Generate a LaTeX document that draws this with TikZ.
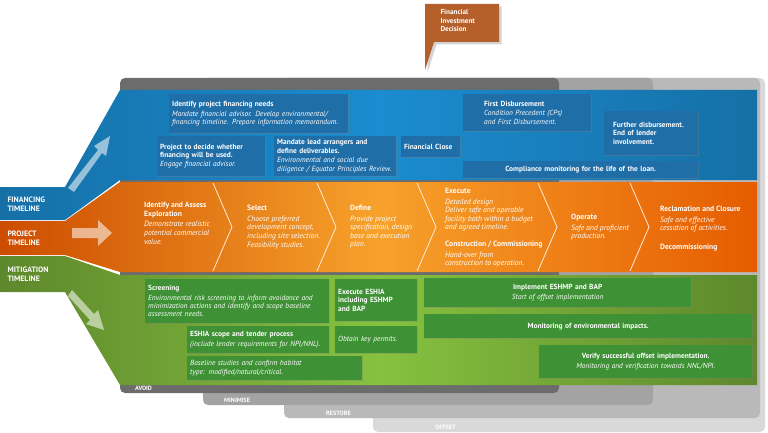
\documentclass[tikz,border=0pt]{standalone}
\usepackage{fontspec}
\setmainfont{PT Sans}
\usetikzlibrary{positioning,shadows}
\definecolor{finblue}{HTML}{1B8CD0}
\definecolor{boxblue}{HTML}{1F6EA8}
\definecolor{projorange}{HTML}{F7A12B}
\definecolor{mitgreen}{HTML}{86C23F}
\definecolor{boxgreen}{HTML}{3E9134}
\definecolor{fidbrown}{HTML}{B5602A}
\tikzset{
  box/.style={anchor=north west, inner sep=3pt, text=white, align=left,
    font=\fontsize{7.4}{8.4}\selectfont, drop shadow={opacity=0.35, shadow xshift=1.2pt, shadow yshift=-1.2pt}},
  fbox/.style={box, fill=boxblue},
  mbox/.style={box, fill=boxgreen},
  steptext/.style={anchor=north west, text=white, align=left, inner sep=0pt,
    font=\fontsize{7.6}{8.6}\selectfont},
  layer/.style={rounded corners=5pt},
  tab/.style={anchor=south west, text=white, font=\bfseries\fontsize{6.2}{6.5}\selectfont, inner sep=1pt},
  band label/.style={anchor=west, text=white, align=left, font=\bfseries\fontsize{7.8}{9.5}\selectfont},
  chevron/.style={white!85!orange, line width=0.8pt},
  bigarrow/.style={fill=white, fill opacity=0.55, draw=none}
}
\begin{document}
\begin{tikzpicture}[x=1pt,y=-1pt]
\useasboundingbox (0,0) rectangle (768,433);
% mitigation layers
\fill[layer, fill=gray!30] (373,78) rectangle (765,432);
\fill[layer, fill=gray!55] (284,78) rectangle (760,418);
\fill[layer, fill=gray!72] (203,78) rectangle (653,405);
\fill[layer, fill=gray!85!black] (120,78) rectangle (559,393);
\node[tab] (avoid) at (134,392) {AVOID};
\node[tab] (minimise) at (223,404) {MINIMISE};
\node[tab] (restore) at (325,417) {RESTORE};
\node[tab] (offset) at (434,431) {OFFSET};

% bands
\shade[left color=finblue!80!black, right color=finblue!80!black, middle color=finblue]
  (0,187) -- (65,187) -- (120,90) -- (757,90) -- (757,180) -- (120,180) -- (65,220) -- (0,220) -- cycle;
\shade[left color=orange!75!red!80!black, right color=orange!80!red!90!black, middle color=projorange]
  (0,221) -- (65,221) -- (120,182) -- (757,182) -- (757,272) -- (120,272) -- (65,255) -- (0,255) -- cycle;
\shade[left color=mitgreen!70!black, right color=mitgreen!70!black, middle color=mitgreen]
  (0,256) -- (65,256) -- (120,275) -- (757,275) -- (757,385) -- (120,385) -- (65,292) -- (0,292) -- cycle;
\node[band label] (fin) at (4,204) {FINANCING\\TIMELINE};
\node[band label] (proj) at (4,238) {PROJECT\\TIMELINE};
\node[band label] (mit) at (4,274) {MITIGATION\\TIMELINE};

% fan arrows
\path[bigarrow] (68,188) -- (98,150) -- (94,146) -- (110,136) -- (106,156) -- (102,153) -- (74,192) -- cycle;
\path[bigarrow] (72,228) -- (98,228) -- (98,220) -- (112,233) -- (98,246) -- (98,238) -- (72,238) -- cycle;
\path[bigarrow] (72,290) -- (94,314) -- (98,310) -- (104,330) -- (86,324) -- (90,320) -- (68,296) -- cycle;

% chevrons
\foreach \cx in {213,317,417,538,630}
  \draw[chevron] (\cx,183) -- (\cx+19,227) -- (\cx,271);

% project steps
\node[steptext] (ident) at (144,202) {\textbf{Identify and Assess}\\\textbf{Exploration}\\[2pt]\itshape Demonstrate realistic\\\itshape potential commercial\\\itshape value.};
\node[steptext] (select) at (247,205) {\textbf{Select}\\[2pt]\itshape Choose preferred\\\itshape development concept,\\\itshape including site selection.\\\itshape Feasibility studies.};
\node[steptext] (define) at (350,205) {\textbf{Define}\\[2pt]\itshape Provide project\\\itshape specification, design\\\itshape base and execution\\\itshape plan.};
\node[steptext] (execute) at (445,188) {\textbf{Execute}\\[2pt]\itshape Detailed design\\\itshape Deliver safe and operable\\\itshape facility both within a budget\\\itshape and agreed timeline.};
\node[steptext] (constr) at (445,241) {\textbf{Construction / Commissioning}\\[2pt]\itshape Hand-over from\\\itshape construction to operation.};
\node[steptext] (operate) at (571,214) {\textbf{Operate}\\[2pt]\itshape Safe and proficient\\\itshape production.};
\node[steptext] (reclaim) at (660,206) {\textbf{Reclamation and Closure}\\[2pt]\itshape Safe and effective\\\itshape cessation of activities.};
\node[steptext] (decom) at (660,244) {\textbf{Decommissioning}};

% financing boxes
\node[fbox, text width=173pt, minimum height=39pt] (needs) at (169,94) {\textbf{Identify project financing needs}\\[1pt]\itshape Mandate financial advisor. Develop environmental/\\\itshape financing timeline. Prepare information memorandum.};
\node[fbox, text width=102pt, minimum height=40pt] (decide) at (157,136) {\textbf{Project to decide whether}\\\textbf{financing will be used.}\\[1pt]\itshape Engage financial advisor.};
\node[fbox, text width=116pt, minimum height=40pt] (mandate) at (274,136) {\textbf{Mandate lead arrangers and}\\\textbf{define deliverables.}\\[1pt]\itshape Environmental and social due\\\itshape diligence / Equator Principles Review.};
\node[fbox, text width=53pt, minimum height=21pt] (close) at (401,136) {\textbf{Financial Close}};
\node[fbox, text width=122pt, minimum height=37pt] (first) at (463,94) {\hspace*{18pt}\textbf{First Disbursement}\\[1pt]\hspace*{18pt}\itshape Condition Precedent (CPs)\\\hspace*{18pt}\itshape and First Disbursement.};
\node[fbox, text width=88pt, minimum height=44pt] (further) at (604,111) {\hspace*{6pt}\textbf{Further disbursement.}\\\hspace*{6pt}\textbf{End of lender}\\\hspace*{6pt}\textbf{involvement.}};
\node[fbox, text width=229pt, minimum height=17pt, align=center] (comply) at (463,161) {\textbf{Compliance monitoring for the life of the loan.}};

% decision callout
\fill[fidbrown, drop shadow={opacity=0.35}] (425,4) -- (499,4) -- (499,42) -- (434,42) -- (425,70) -- (425,4) -- cycle;
\node[anchor=north west, text=white, align=left, font=\bfseries\fontsize{7.2}{8.4}\selectfont] (fid) at (437,6) {Financial\\Investment\\Decision};

% mitigation boxes
\node[mbox, text width=178pt, minimum height=44pt] (screen) at (145,279) {\textbf{Screening}\\[1pt]\itshape Environmental risk screening to inform avoidance and\\\itshape minimization actions and identify and scope baseline\\\itshape assessment needs.};
\node[mbox, text width=76pt, minimum height=42pt] (eshia) at (335,279) {\textbf{Execute ESHIA}\\\textbf{including ESHMP}\\\textbf{and BAP}};
\node[mbox, text width=136pt, minimum height=27pt] (scope) at (187,326) {\textbf{ESHIA scope and tender process}\\[1pt]\itshape (include lender requirements for NPI/NNL).};
\node[mbox, text width=76pt, minimum height=27pt] (permits) at (335,326) {\itshape Obtain key permits.};
\node[mbox, text width=169pt, minimum height=24pt] (baseline) at (187,356) {\itshape Baseline studies and confirm habitat\\\itshape type: modified/natural/critical.};
\node[mbox, text width=261pt, minimum height=29pt, align=center] (implement) at (424,278) {\textbf{Implement ESHMP and BAP}\\[1pt]\itshape Start of offset implementation};
\node[mbox, text width=322pt, minimum height=24pt, align=center] (monitor) at (424,314) {\textbf{Monitoring of environmental impacts.}};
\node[mbox, text width=207pt, minimum height=33pt, align=center] (verify) at (539,345) {\textbf{Verify successful offset implementation.}\\[1pt]\itshape Monitoring and verification towards NNL/NPI.};
\end{tikzpicture}
\end{document}
